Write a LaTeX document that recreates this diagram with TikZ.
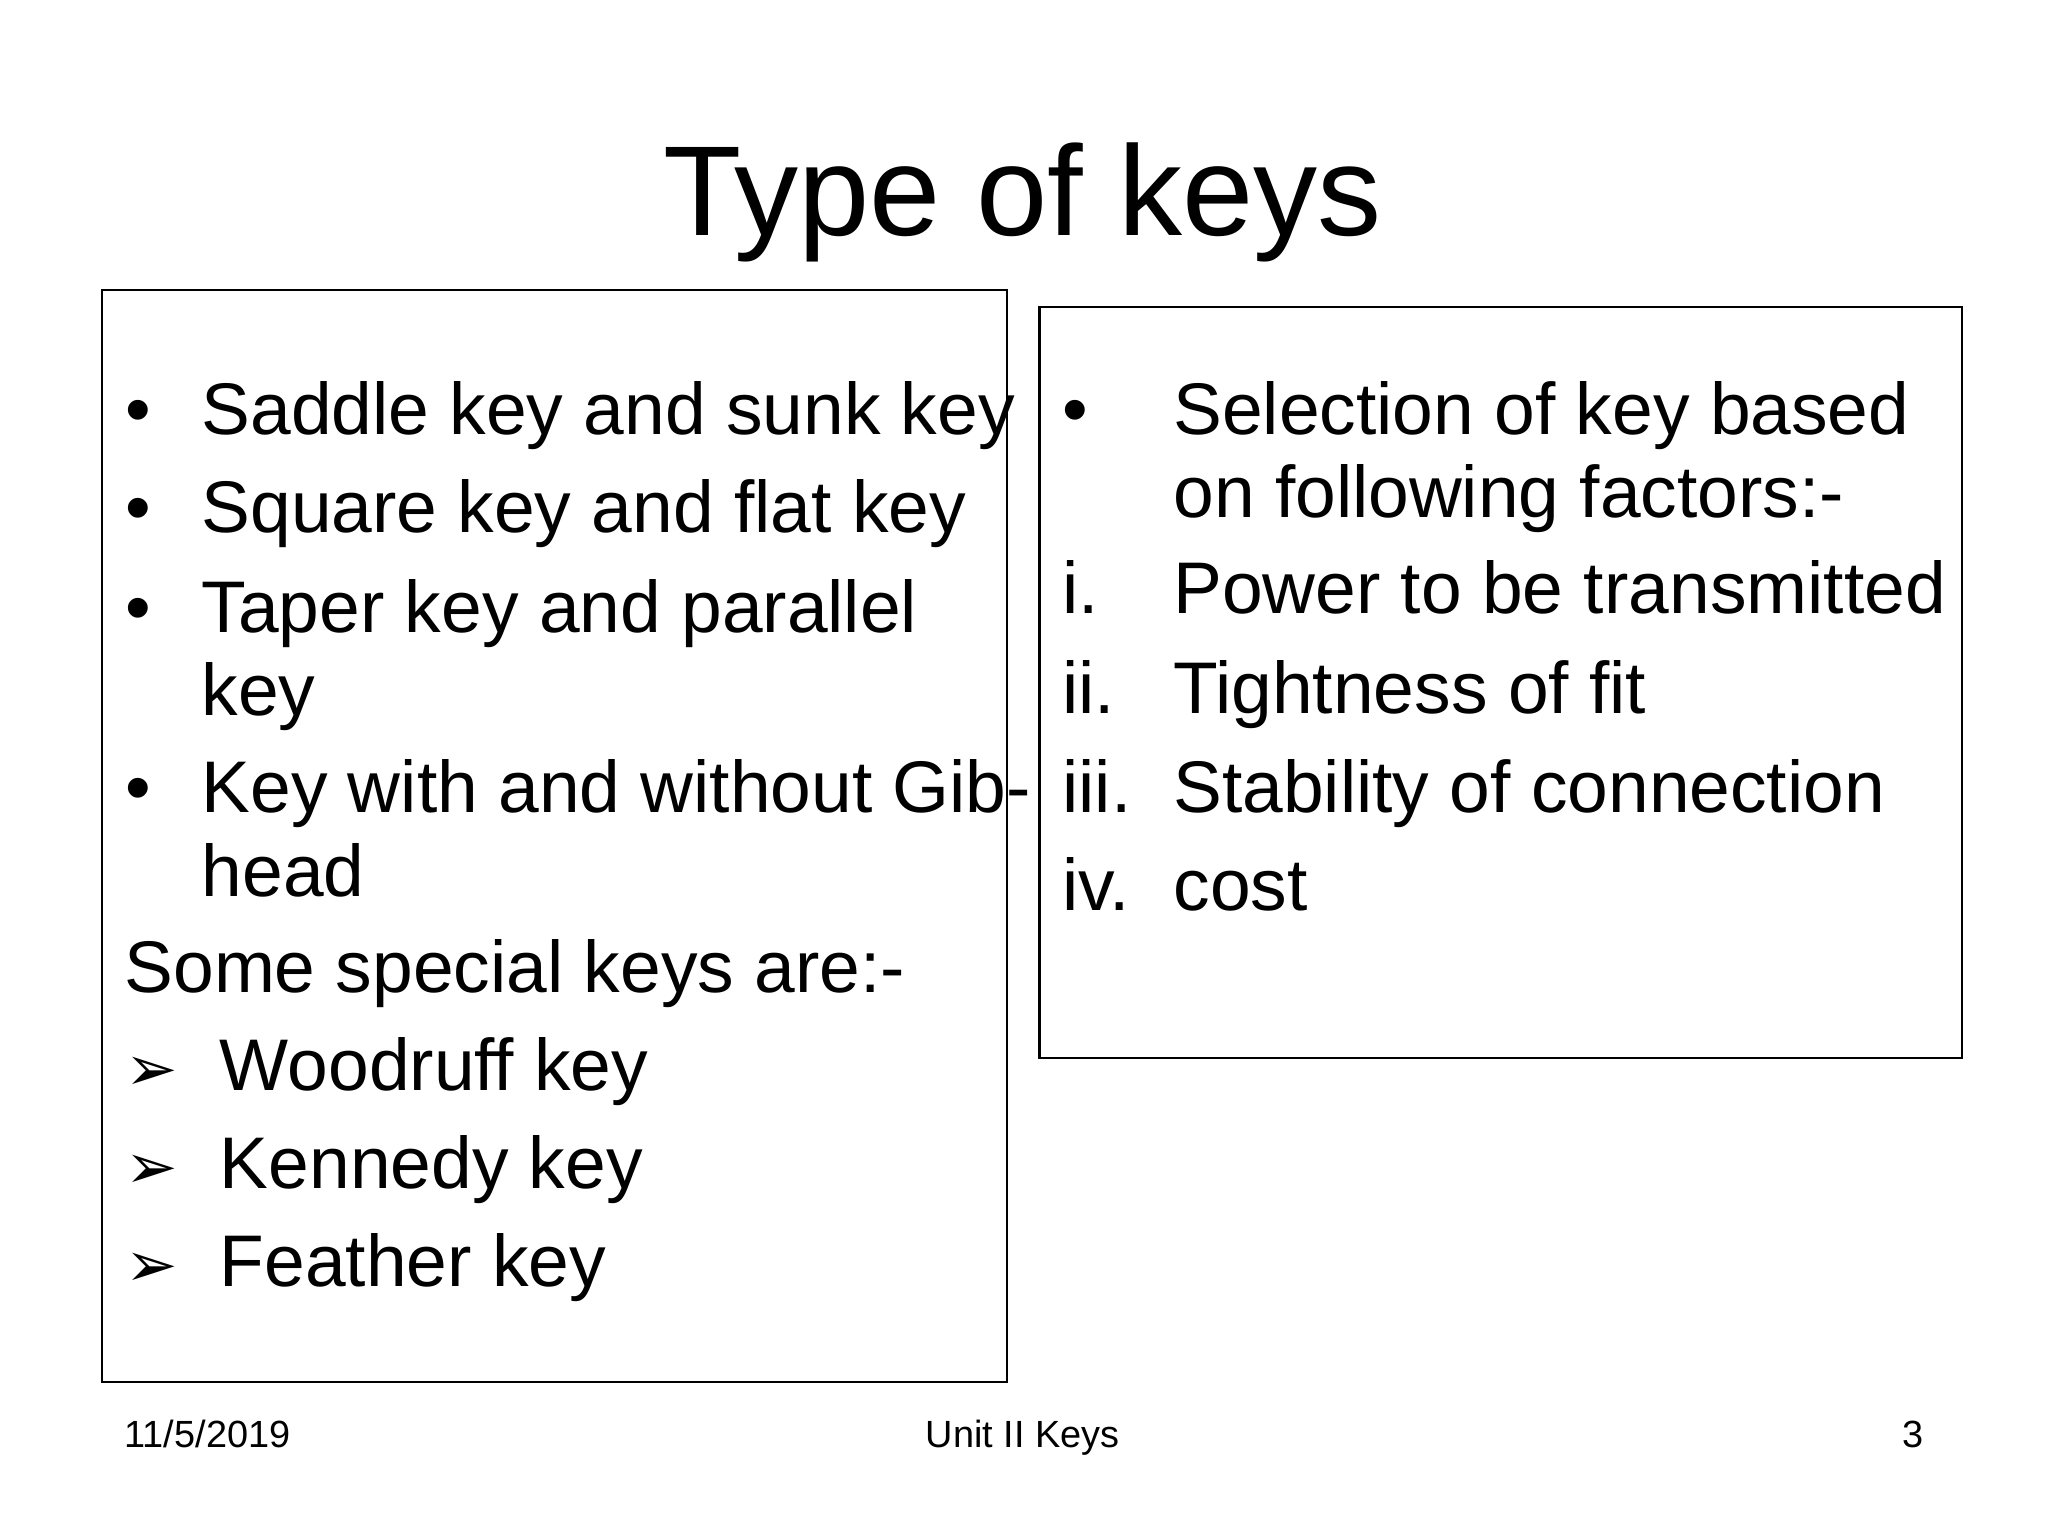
\documentclass[tikz,border=0pt]{standalone}
\usepackage{fontspec}
\setmainfont{Liberation Sans}
\newfontfamily\djv{DejaVu Sans}
\begin{document}
\begin{tikzpicture}[x={(0.5pt,0)},y={(0,-0.5pt)},
 body/.style={anchor=base west,inner sep=0,font=\fontsize{28}{28}\selectfont},
 foot/.style={inner sep=0,font=\fontsize{14.5}{14.5}\selectfont},
 box/.style={draw,line width=1pt}]
\useasboundingbox (0,0) rectangle (1568,1176);
\node[anchor=base,inner sep=0,font=\fontsize{49}{49}\selectfont] (title) at (783,180) {Type of keys};
\draw[box] (78,222) rectangle (771,1058);
\draw[box] (796,235) rectangle (1502,810);
% left
\foreach \y/\t [count=\i] in {333/Saddle key and sunk key,408/Square key and flat key,484/Taper key and parallel,548/key,622/Key with and without Gib-,686/head}{
 \node[body] (l\i) at (154,\y) {\t};}
\foreach \y [count=\i] in {333,408,484,622}{\node[body] (b\i) at (96,\y) {•};}
\node[body] (sp) at (95,760) {Some special keys are:-};
\foreach \y/\t [count=\i] in {835/Woodruff key,910/Kennedy key,985/Feather key}{
 \node[body] (a\i) at (96,\y) {\djv\fontsize{24}{24}\selectfont ➢};
 \node[body] (s\i) at (168,\y) {\t};}
% right
\node[body] (rb) at (813,333) {•};
\node[body] (r1) at (898,333) {Selection of key based};
\node[body] (r2) at (898,396) {on following factors:-};
\foreach \y/\n/\t [count=\i] in {470/i./Power to be transmitted,546/ii./Tightness of fit,622/iii./Stability of connection,697/iv./cost}{
 \node[body] (n\i) at (813,\y) {\n};
 \node[body] (t\i) at (898,\y) {\t};}
% footer
\node[foot,anchor=base west] (date) at (95,1108) {11/5/2019};
\node[foot,anchor=base] (unit) at (783,1108) {Unit II Keys};
\node[foot,anchor=base east] (pg) at (1473,1108) {3};
\end{tikzpicture}
\end{document}
